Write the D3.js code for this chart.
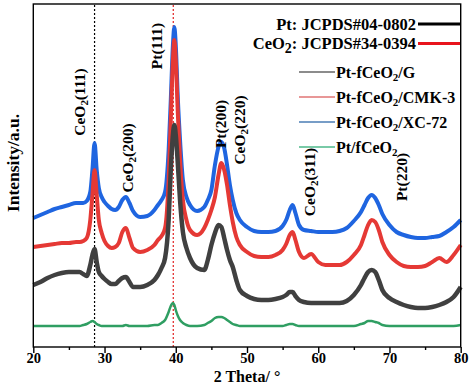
<!DOCTYPE html>
<html>
<head>
<meta charset="utf-8">
<script src="https://cdn.jsdelivr.net/npm/d3@7"></script>
<style>
body { margin: 0; background: #fff; }
text { font-family: "Times New Roman", "Liberation Serif", serif; font-weight: bold; fill: #000; }
</style>
</head>
<body>
<div id="chart"></div>
<script>
var width = 474;
var height = 387;

// 2 theta sample positions (degrees)
const twoTheta = [20,21,22,23,24,25,26,26.5,27,27.5,
  28,28.3,28.6,28.9,29.2,29.6,30,30.5,31,31.5,
  32,32.5,33,33.5,34,35,36,37,37.5,38,
  38.5,39,39.3,39.6,39.8,40,40.3,40.6,41,41.5,
  42,43,44,44.5,45,45.5,46,46.4,46.8,47.2,
  47.6,48,48.5,49,50,51,52,53,54,55,
  55.5,56,56.4,56.8,57.3,58,59,60,61,62,
  63,64,65,66,66.5,67,67.5,68,68.5,69,
  70,71,72,73,74,75,76,77,78,79,80];

// intensities (a.u.)
const ptXC72 = [129,132,135,138,140,142,144,144,144,146,
  155,177,204,177,159,150,145,141,138,137,
  140,147,150,144,136,130,131,137,142,147,
  155,197,247,302,320,302,247,207,167,150,
  142,136,140,147,157,182,200,205,199,182,
  162,147,134,127,120,116,115,115,116,121,
  127,137,142,134,122,117,116,115,115,115,
  116,119,126,135,142,149,152,149,142,133,
  122,115,112,110,109,109,110,111,115,120,127];

const ptCMK3 = [100,101,102,103,104,104,105,105,106,109,
  127,152,177,152,127,114,106,101,99,100,
  104,115,119,109,99,95,97,102,107,111,
  119,167,227,287,307,287,232,187,147,127,
  117,112,119,127,137,150,172,184,177,162,
  142,125,110,102,95,91,90,90,92,97,
  103,112,115,107,95,89,93,85,82,82,
  82,85,92,102,112,122,127,125,117,105,
  92,85,81,80,80,81,85,89,85,92,102];

const ptG = [62,65,69,72,74,75,75,75,73,71,
  82,92,98,85,75,71,68,65,63,63,
  66,69,70,65,60,60,62,67,72,79,
  89,127,177,212,222,212,182,147,115,99,
  89,79,77,87,102,114,122,120,109,97,
  87,80,67,57,51,48,47,47,48,50,
  52,55,55,51,47,45,44,44,44,44,
  44,46,52,62,69,75,77,75,67,57,
  49,45,42,40,39,39,40,42,45,50,60];

const ptF = [21,21,21,21,21,21,21,21,22,23,
  25,26,25,23,22,21,21,21,21,21,
  21,21,22,21,21,21,21,22,22,24,
  27,35,41,44,42,37,31,27,24,22,
  21,21,22,24,26,29,30,30,29,27,
  25,23,22,21,21,21,21,21,21,21,
  22,23,23,22,21,21,21,21,21,21,
  21,21,21,23,24,26,26,25,24,22,
  21,21,21,21,21,21,21,21,21,21,22];

const seriesNames = ["Pt-fCeO_2/G", "Pt-fCeO_2/CMK-3", "Pt-fCeO_2/XC-72", "Pt/fCeO_2"];
const refNames = ["Pt: JCPDS#04-0802", "CeO_2: JCPDS#34-0394"];
const refPositions = [28.6, 39.65];   // dotted reference lines
const peakLabels = ["CeO_2(111)", "CeO_2(200)", "Pt(111)", "Pt(200)", "CeO_2(220)", "CeO_2(311)", "Pt(220)"];
const peakPositions = [26.6, 33.3, 37.4, 46.3, 49.0, 58.8, 71.7];
const peakHeights = [245, 189, 301, 223, 217, 165, 170];
const majorTicks = [20, 30, 40, 50, 60, 70, 80];
const minorTicks = [25, 35, 45, 55, 65, 75];

const curveColors = ["#404040", "#e53935", "#1f65e0", "#2f9e62"];
const legendColors = ["#666666", "#e07474", "#4a7db5", "#4db88a"];

var x = d3.scaleLinear().domain([20, 80]).range([33.3, 460.7]);
var y = d3.scaleLinear().domain([0, 343]).range([347, 4]);

var svg = d3.select("#chart").append("svg")
    .attr("width", width)
    .attr("height", height);

// text with "_2" style subscripts
function rich(sel, s, subSize, shift) {
    const parts = s.split(/_(\d)/);
    parts.forEach((p, i) => {
        if (!p) return;
        const t = sel.append("tspan").text(p);
        if (i % 2 == 1) t.attr("font-size", subSize).attr("dy", shift);
        else if (i > 0) t.attr("dy", -shift);
    });
}

// reference dotted lines
svg.selectAll(".ref")
    .data(refPositions)
    .enter()
    .append("line")
    .attr("x1", d => x(d)).attr("x2", d => x(d))
    .attr("y1", y(0)).attr("y2", y(343))
    .attr("stroke", (d, i) => i == 0 ? "#000" : "#e02020")
    .attr("stroke-width", 1.2)
    .attr("stroke-dasharray", "2,2");

// XRD curves
const line = d3.line()
    .x((d, i) => x(twoTheta[i]))
    .y(d => y(d))
    .curve(d3.curveMonotoneX);

const series = [ptG, ptCMK3, ptXC72, ptF];
const drawOrder = [2, 1, 0, 3];
const strokeW = [4.5, 4, 4, 2.5];
drawOrder.forEach(k => {
    svg.append("path")
        .datum(series[k])
        .attr("fill", "none")
        .attr("stroke", curveColors[k])
        .attr("stroke-width", strokeW[k])
        .attr("stroke-linejoin", "round")
        .attr("d", line);
});

// peak labels (vertical)
peakLabels.forEach((lab, i) => {
    const t = svg.append("text")
        .attr("transform", `translate(${x(peakPositions[i]) + 5},${y(peakHeights[i])}) rotate(-90)`)
        .attr("text-anchor", "middle")
        .attr("font-size", 15.5);
    rich(t, lab, 11, 3);
});

// frame
svg.append("rect")
    .attr("x", x(20)).attr("y", y(343))
    .attr("width", x(80) - x(20)).attr("height", y(0) - y(343))
    .attr("fill", "none")
    .attr("stroke", "#000")
    .attr("stroke-width", 1.4);

// x axis
var xAxis = svg.append("g")
    .attr("transform", `translate(0,${y(0)})`)
    .call(d3.axisBottom(x).tickValues(majorTicks).tickSize(6).tickPadding(0).tickFormat(d3.format("d")));
xAxis.select(".domain").remove();
xAxis.selectAll("line").attr("stroke-width", 1.4);
xAxis.selectAll("text")
    .attr("font-size", 14.5)
    .attr("font-family", '"Times New Roman","Liberation Serif",serif')
    .attr("font-weight", "bold");

var xMinor = svg.append("g")
    .attr("transform", `translate(0,${y(0)})`)
    .call(d3.axisBottom(x).tickValues(minorTicks).tickSize(3).tickFormat(""));
xMinor.select(".domain").remove();
xMinor.selectAll("line").attr("stroke-width", 1.4);

svg.append("text")
    .attr("x", 247)
    .attr("y", 381.5)
    .attr("text-anchor", "middle")
    .attr("font-size", 16)
    .text("2 Theta/ \u00b0");

svg.append("text")
    .attr("transform", "translate(19,163) rotate(-90)")
    .attr("text-anchor", "middle")
    .attr("font-size", 17.5)
    .text("Intensity/a.u.");

// legend: reference cards
const refColors = ["#000", "#e8141c"];
refNames.forEach((name, i) => {
    const yy = 24 + i * 19.5;
    svg.append("line")
        .attr("x1", 418).attr("x2", 460)
        .attr("y1", yy).attr("y2", yy)
        .attr("stroke", refColors[i])
        .attr("stroke-width", 3);
    const t = svg.append("text")
        .attr("x", 416)
        .attr("y", yy + 5.5)
        .attr("text-anchor", "end")
        .attr("font-size", 16.5);
    rich(t, name, 14, 4);
});

// legend: samples
seriesNames.forEach((name, i) => {
    const yy = 72 + i * 25;
    svg.append("line")
        .attr("x1", 299).attr("x2", 335)
        .attr("y1", yy).attr("y2", yy)
        .attr("stroke", legendColors[i])
        .attr("stroke-width", 1.6);
    const t = svg.append("text")
        .attr("x", 336)
        .attr("y", yy + 6)
        .attr("font-size", 16);
    rich(t, name, 11, 3);
});
</script>
</body>
</html>
